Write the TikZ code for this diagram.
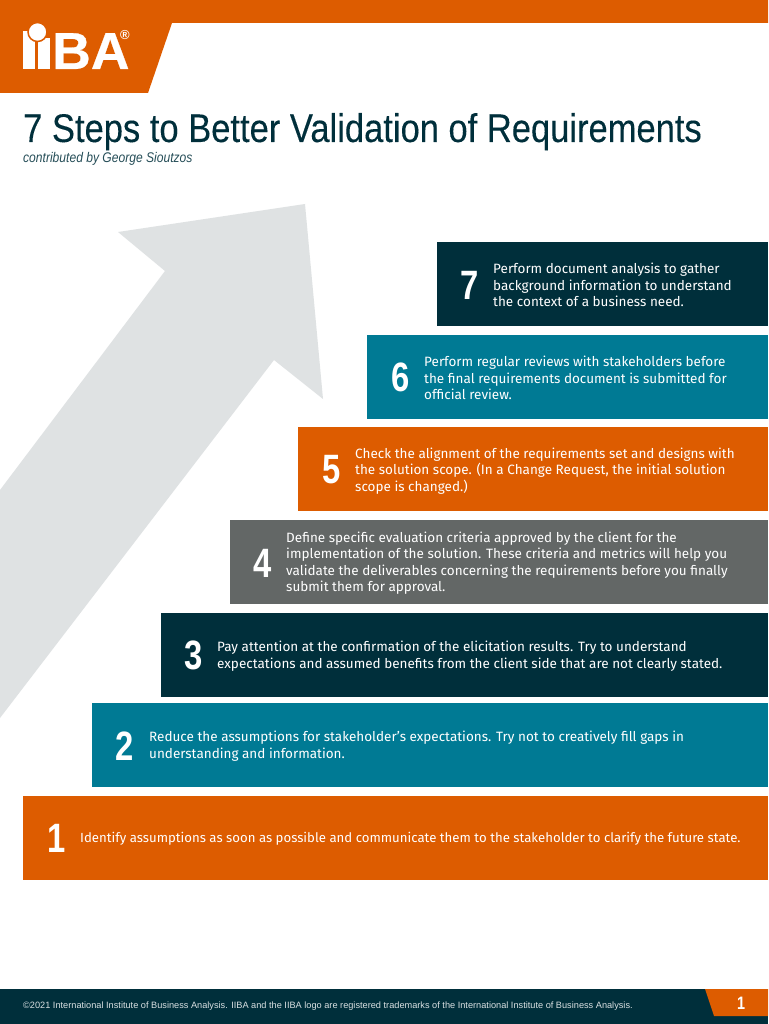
\documentclass[tikz,border=0pt]{standalone}
\usepackage{fontspec}
\setmainfont{Fira Sans}
\newfontfamily\titlefont[FakeStretch=0.863,FakeBold=0.15]{Liberation Sans}
\newfontfamily\authorfont[FakeStretch=0.863]{Liberation Sans}
\newfontfamily\numfont[FakeStretch=0.8]{Liberation Sans}
\newfontfamily\logofont[FakeStretch=1.03,FakeBold=0.5]{Liberation Sans}
\newfontfamily\footfont{Liberation Sans}
\definecolor{iibaorange}{HTML}{DD5C00}
\definecolor{iibadark}{HTML}{002F3B}
\definecolor{iibateal}{HTML}{007A94}
\definecolor{iibagrey}{HTML}{636766}
\definecolor{iibaarrow}{HTML}{DFE2E3}
\tikzset{
	stepbox/.style={anchor=north east,minimum height=84pt,inner sep=0pt,outer sep=0pt},
	stepnum/.style={text=white,font=\numfont\bfseries\fontsize{41}{41}\selectfont,inner sep=0pt},
	steptext/.style={anchor=west,text=white,align=left,inner sep=0pt,font=\fontsize{13.5}{16.5}\selectfont},
}
\begin{document}
\begin{tikzpicture}[x=1pt,y=-1pt]
	 \useasboundingbox (0,0) rectangle (768,1024);
	 \fill[white] (0,0) rectangle (768,1024);
	 \fill[iibaorange] (0,0) -- (768,0) -- (768,23) -- (172,23) -- (148,93) -- (0,93) -- cycle;
	 \fill[white] (23,31) rectangle (35,69);
	 \fill[white] (38,38) rectangle (50,69);
	 \fill[white,draw=iibaorange,line width=1.5pt] (37.5,32) circle (9.5);
	 \node (logoba) [anchor=base west,inner sep=0pt,text=white,font=\logofont\bfseries\fontsize{52}{52}\selectfont] at (52,69) {BA};
	 \node (logoreg) [inner sep=0pt,text=white,font=\footfont\bfseries\fontsize{13}{13}\selectfont] at (125,35) {®};
	 \node (title) [anchor=base west,inner sep=0pt,text=iibadark,font=\titlefont\fontsize{40}{40}\selectfont] at (23,142) {7 Steps to Better Validation of Requirements};
	 \node (author) [anchor=base west,inner sep=0pt,text=iibadark!85,font=\authorfont\itshape\fontsize{14}{14}\selectfont] at (23,163) {contributed by George Sioutzos};
	 \fill[iibaarrow] (305,204) -- (118,232) -- (165,271) -- (0,490) -- (0,718) -- (274,360) -- (323,399) -- cycle;
	 \node (box7) [stepbox,fill=iibadark,minimum width=331pt] at (768,242) {};
	 \node (box6) [stepbox,fill=iibateal,minimum width=401pt] at (768,335) {};
	 \node (box5) [stepbox,fill=iibaorange,minimum width=470pt] at (768,427) {};
	 \node (box4) [stepbox,fill=iibagrey,minimum width=538pt] at (768,520) {};
	 \node (box3) [stepbox,fill=iibadark,minimum width=607pt] at (768,613) {};
	 \node (box2) [stepbox,fill=iibateal,minimum width=676pt] at (768,703) {};
	 \node (box1) [stepbox,fill=iibaorange,minimum width=745pt] at (768,796) {};
	 \node (num7) [stepnum] at (469.5,285) {7};
	 \node (num6) [stepnum] at (400.5,377) {6};
	 \node (num5) [stepnum] at (331.5,470) {5};
	 \node (num4) [stepnum] at (262.5,563) {4};
	 \node (num3) [stepnum] at (193.5,655) {3};
	 \node (num2) [stepnum] at (124.5,746) {2};
	 \node (num1) [stepnum] at (56.5,838) {1};
	 \node (text7) [steptext] at (493,285) {Perform document analysis to gather\\background information to understand\\the context of a business need.};
	 \node (text6) [steptext] at (424,378) {Perform regular reviews with stakeholders before\\the final requirements document is submitted for\\official review.};
	 \node (text5) [steptext] at (355,471) {Check the alignment of the requirements set and designs with\\the solution scope. (In a Change Request, the initial solution\\scope is changed.)};
	 \node (text4) [steptext] at (286,563) {Define specific evaluation criteria approved by the client for the\\implementation of the solution. These criteria and metrics will help you\\validate the deliverables concerning the requirements before you finally\\submit them for approval.};
	 \node (text3) [steptext] at (217,656) {Pay attention at the confirmation of the elicitation results. Try to understand\\expectations and assumed benefits from the client side that are not clearly stated.};
	 \node (text2) [steptext] at (149,746) {Reduce the assumptions for stakeholder’s expectations. Try not to creatively fill gaps in\\understanding and information.};
	 \node (text1) [steptext,font=\fontsize{13.2}{16.5}\selectfont] at (80,839) {Identify assumptions as soon as possible and communicate them to the stakeholder to clarify the future state.};
	 \fill[iibadark] (0,989) rectangle (768,1024);
	 \fill[iibaorange] (705,989) -- (768,989) -- (768,1016) -- (714,1016) -- cycle;
	 \node (pagenum) [inner sep=0pt,text=white,font=\numfont\bfseries\fontsize{18}{18}\selectfont] at (741,1003) {1};
	 \node (footer) [anchor=west,inner sep=0pt,text=white!85!iibadark,font=\footfont\fontsize{9.2}{9.2}\selectfont] at (23,1006) {©2021 International Institute of Business Analysis. IIBA and the IIBA logo are registered trademarks of the International Institute of Business Analysis.};
\end{tikzpicture}
\end{document}
